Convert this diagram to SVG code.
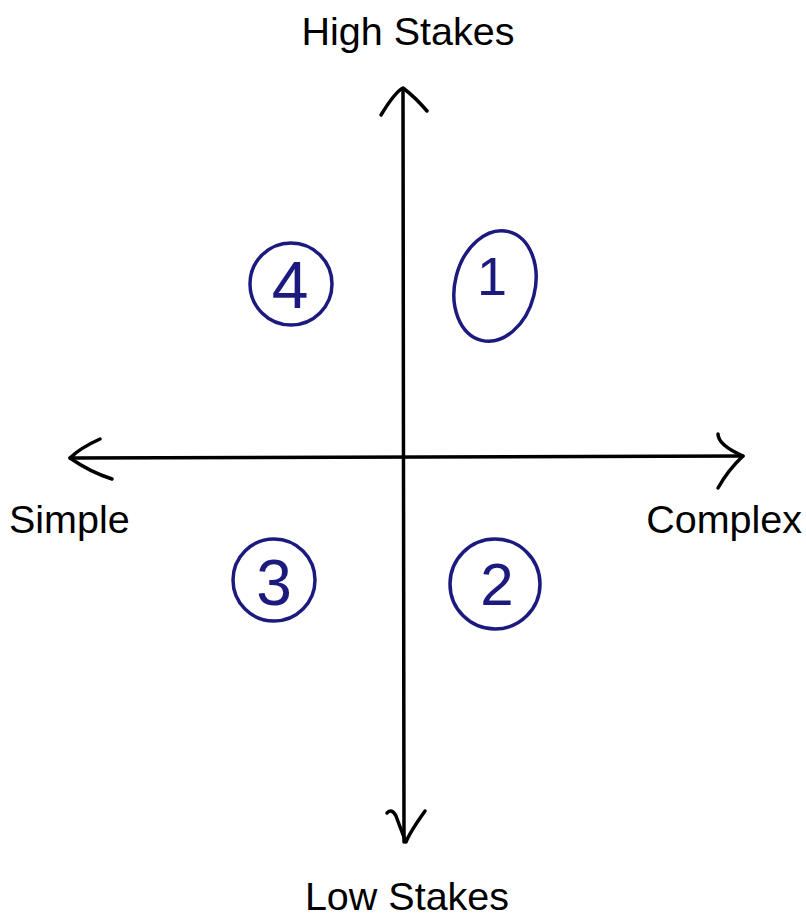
<svg xmlns="http://www.w3.org/2000/svg" width="806" height="919" viewBox="0 0 806 919">
<style>
.lbl{font-family:"Liberation Sans",Arial,sans-serif;font-size:39.5px;fill:#000}
.ax{fill:none;stroke:#000;stroke-width:3.5;stroke-linecap:round;stroke-linejoin:round}
.ring{fill:none;stroke:#1c1a7e;stroke-width:3.5}
.num{font-family:"Liberation Sans",Arial,sans-serif;fill:#1c1a7e;text-anchor:middle}
</style>
<rect width="806" height="919" fill="#fff"/>
<g id="connectors">
<path class="ax" d="M403,90 L404,842"/>
<path class="ax" d="M381,115 Q395,92 403,88 Q415,97 427,111"/>
<path class="ax" d="M387,813 Q392,808 396,816 Q403,835 406,842 Q410,832 425,811"/>
<path class="ax" d="M70,458 L743,456"/>
<path class="ax" d="M100,439 Q80,448 70,458 Q90,472 112,479"/>
<path class="ax" d="M718,434 Q718,445 743,456 Q728,470 718,488"/>
</g>
<g id="label-high"><text class="lbl" x="408" y="45" text-anchor="middle">High Stakes</text></g>
<g id="label-low"><text class="lbl" x="407" y="910" text-anchor="middle">Low Stakes</text></g>
<g id="label-simple"><text class="lbl" x="9" y="533">Simple</text></g>
<g id="label-complex"><text class="lbl" x="802" y="533" text-anchor="end">Complex</text></g>
<g id="q4"><circle class="ring" cx="291" cy="284" r="41"/><text class="num" x="290" y="308" font-size="66">4</text></g>
<g id="q1"><ellipse class="ring" cx="495" cy="286" rx="40" ry="56" transform="rotate(14 495 286)"/><text class="num" x="492" y="295" font-size="54">1</text></g>
<g id="q3"><circle class="ring" cx="274" cy="580" r="41"/><text class="num" x="274" y="605" font-size="64">3</text></g>
<g id="q2"><circle class="ring" cx="495" cy="584" r="45"/><text class="num" x="497" y="605" font-size="60">2</text></g>
</svg>
